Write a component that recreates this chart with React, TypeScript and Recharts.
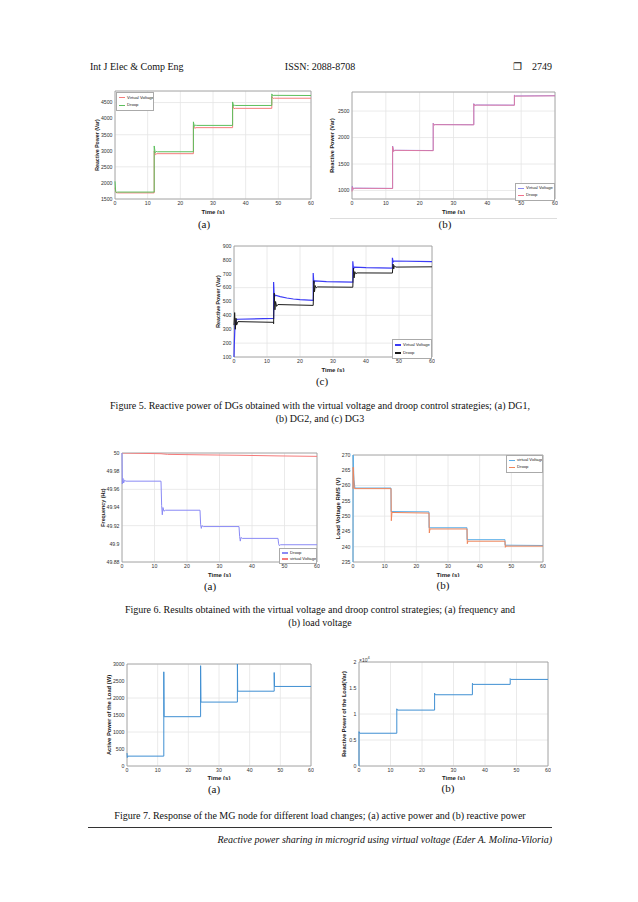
import React from 'react';
import { LineChart, Line, XAxis, YAxis, CartesianGrid, ReferenceArea } from 'recharts';

type Pt = { t: number; v: number };
const pts = (rows: number[][]): Pt[] => rows.map(([t, v]) => ({ t, v }));

const timeTicks = [0, 10, 20, 30, 40, 50, 60];

// Figure 5 (a) DG1
const dg1Ticks = [1500, 2000, 2500, 3000, 3500, 4000, 4500];
const dg1Virtual = pts([
  [0, 1850], [0.3, 1700], [0.8, 1690], [12, 1690], [12, 2990], [12.4, 2880], [12.8, 2910], [24, 2910],
  [24, 3780], [24.4, 3700], [24.8, 3720], [36, 3720], [36, 4420], [36.4, 4310], [36.8, 4320], [48, 4320],
  [48, 4690], [48.4, 4630], [48.8, 4635], [60, 4635],
]);
const dg1Droop = pts([
  [0, 2050], [0.2, 1740], [0.4, 1700], [0.8, 1715], [12, 1715], [12, 3150], [12.3, 2940], [12.6, 2980],
  [13, 2970], [24, 2970], [24, 3900], [24.3, 3760], [24.6, 3800], [25, 3790], [36, 3790], [36, 4520],
  [36.3, 4390], [36.6, 4415], [37, 4410], [48, 4410], [48, 4770], [48.3, 4710], [48.6, 4725], [60, 4720],
]);

// Figure 5 (b) DG2
const dg2Ticks = [1000, 1500, 2000, 2500];
const dg2Virtual = pts([
  [0, 1000], [0.1, 1080], [0.4, 1030], [0.8, 1045], [12, 1040], [12, 1840], [12.3, 1740], [12.6, 1760],
  [24, 1755], [24, 2270], [24.3, 2240], [24.6, 2245], [36, 2242], [36, 2640], [36.3, 2605], [36.6, 2615],
  [48, 2612], [48, 2800], [48.3, 2785], [60, 2790],
]);
const dg2Droop = pts([
  [0, 980], [0.1, 1070], [0.4, 1025], [0.8, 1042], [12, 1038], [12, 1830], [12.3, 1735], [12.6, 1758],
  [24, 1752], [24, 2265], [24.3, 2235], [24.6, 2243], [36, 2240], [36, 2635], [36.3, 2600], [36.6, 2612],
  [48, 2610], [48, 2795], [48.3, 2782], [60, 2788],
]);

// Figure 5 (c) DG3
const dg3Ticks = [100, 200, 300, 400, 500, 600, 700, 800, 900];
const dg3Virtual = pts([
  [0, 100], [0.1, 200], [0.3, 330], [0.6, 365], [1, 372], [12, 378], [12, 640], [12.2, 530], [12.5, 545],
  [14, 535], [16, 525], [18, 518], [20, 513], [24, 508], [24, 705], [24.2, 630], [24.5, 648], [28, 643],
  [36, 640], [36, 790], [36.2, 735], [36.5, 748], [40, 744], [48, 740], [48, 815], [48.2, 785], [48.5, 792],
  [60, 788],
]);
const dg3Droop = pts([
  [0, 330], [0.2, 420], [0.4, 300], [0.6, 380], [0.8, 330], [1.2, 355], [12, 350], [12, 340], [12.2, 560],
  [12.4, 440], [12.6, 500], [12.9, 465], [13.3, 478], [24, 472], [24.2, 650], [24.4, 570], [24.6, 615],
  [24.9, 598], [25.3, 605], [36, 603], [36.2, 740], [36.4, 670], [36.6, 715], [36.9, 700], [37.3, 706],
  [48, 705], [48.2, 770], [48.4, 735], [48.6, 758], [49, 748], [60, 750],
]);

// Figure 6 (a) frequency
const freqTicks = [49.88, 49.9, 49.92, 49.94, 49.96, 49.98, 50];
const freqVirtual = pts([
  [0, 50], [12, 49.9992], [14, 49.9985], [24, 49.998], [36, 49.9975], [48, 49.9968], [60, 49.9963],
]);
const freqDroop = pts([
  [0, 50], [0.1, 49.966], [0.3, 49.972], [0.5, 49.967], [0.8, 49.970], [1.2, 49.969], [12, 49.969],
  [12.2, 49.942], [12.4, 49.932], [12.6, 49.940], [12.9, 49.936], [13.4, 49.937], [24, 49.937],
  [24.2, 49.921], [24.4, 49.917], [24.6, 49.920], [25, 49.919], [36, 49.919], [36.2, 49.908],
  [36.4, 49.903], [36.6, 49.907], [37, 49.906], [48, 49.906], [48.2, 49.900], [48.4, 49.898],
  [48.8, 49.899], [60, 49.899],
]);

// Figure 6 (b) load voltage
const voltTicks = [235, 240, 245, 250, 255, 260, 265, 270];
const voltVirtual = pts([
  [0, 235], [0.05, 270], [0.3, 262], [0.6, 259.2], [12, 259.2], [12, 251.5], [24, 251.4], [24, 246.2],
  [36, 246.2], [36, 242.3], [48, 242.3], [48, 240.5], [60, 240.4],
]);
const voltDroop = pts([
  [0, 259], [0.05, 266], [0.4, 259], [12, 259], [12.1, 248.5], [12.3, 251.2], [24, 251], [24.1, 244.5],
  [24.3, 245.8], [36, 245.8], [36.1, 241], [36.3, 241.8], [48, 241.8], [48.1, 239.8], [48.3, 240.2],
  [60, 240.2],
]);

// Figure 7 (a) active power of the load
const loadPTicks = [0, 500, 1000, 1500, 2000, 2500, 3000];
const loadP = pts([
  [0, 380], [0.1, 250], [0.3, 290], [12, 290], [12, 2770], [12.1, 1450], [24, 1450], [24, 2950],
  [24.1, 1880], [36, 1880], [36, 3050], [36.1, 2200], [48, 2200], [48, 2750], [48.1, 2340], [60, 2340],
]);

// Figure 7 (b) reactive power of the load
const loadQTicks = [0, 5000, 10000, 15000, 20000];
const loadQ = pts([
  [0, 0], [0, 6600], [0.2, 6300], [12, 6300], [12, 11000], [12.2, 10750], [24, 10750], [24, 14000],
  [24.2, 13700], [36, 13700], [36, 15900], [36.2, 15700], [48, 15700], [48, 16800], [48.2, 16650],
  [60, 16650],
]);

const sans = '"Liberation Sans", Arial, sans-serif';
const serif = '"Liberation Serif", "Times New Roman", serif';

type S = { name: string; data: Pt[]; color: string; width?: number; opacity?: number };

const Panel = ({ x, y, w, h, domain, ticks, yLabel, labelDist, yLabelSize = 5.5, xH = 15, fmt, series }: {
  x: number; y: number; w: number; h: number; domain: [number, number]; ticks: number[];
  yLabel: string; labelDist: number; yLabelSize?: number; xH?: number; fmt?: (v: number) => string; series: S[];
}) => {
  const yW = 32, mt = 3, mr = 3;
  return (
    <div style={{ position: 'absolute', left: x - yW, top: y - mt }}>
      <LineChart width={yW + w + mr} height={mt + h + xH} margin={{ top: mt, right: mr, left: 0, bottom: 0 }}
        style={{ fontFamily: sans }}>
        <CartesianGrid stroke="#e4e4e4" strokeWidth={0.8} />
        <XAxis dataKey="t" type="number" domain={[0, 60]} ticks={timeTicks} height={xH}
          axisLine={false} tickLine={false} tickSize={2} tickMargin={0.5}
          tick={{ fontSize: 5.2, fill: '#333' }}
          label={{ value: 'Time (s)', position: 'insideBottom', offset: 0, fontSize: 6, fontWeight: 'bold', fill: '#222' }} />
        <YAxis type="number" domain={domain} ticks={ticks} width={yW} allowDataOverflow
          axisLine={false} tickLine={false} tickSize={1.5} tickMargin={1} tickFormatter={fmt}
          tick={{ fontSize: 5.2, fill: '#333' }}
          label={{ value: yLabel, angle: -90, position: 'insideLeft', offset: yW - labelDist, textAnchor: 'middle',
            fontSize: yLabelSize, fontWeight: 'bold', fill: '#222' }} />
        <ReferenceArea x1={0} x2={60} y1={domain[0]} y2={domain[1]} fill="none" stroke="#9a9a9a" strokeWidth={0.8} />
        {series.map((s) => (
          <Line key={s.name} data={s.data} dataKey="v" name={s.name} type="linear" stroke={s.color}
            strokeWidth={s.width ?? 1} strokeOpacity={s.opacity ?? 1} dot={false} activeDot={false}
            isAnimationActive={false} />
        ))}
      </LineChart>
    </div>
  );
};

const Legend = ({ x, y, w, rowH = 7, items }: {
  x: number; y: number; w: number; rowH?: number; items: { name: string; color: string }[];
}) => (
  <div style={{ position: 'absolute', left: x, top: y, width: w, background: '#fff', border: '0.8px solid #aaa',
    fontFamily: sans, fontSize: 4.2, color: '#222', padding: '1px 0', boxSizing: 'border-box', lineHeight: 1,
    overflow: 'hidden' }}>
    {items.map((it) => (
      <div key={it.name} style={{ display: 'flex', alignItems: 'center', height: rowH, whiteSpace: 'nowrap' }}>
        <div style={{ width: 6, height: 1.2, background: it.color, margin: '0 2px 0 2px', flexShrink: 0 }} />
        <span>{it.name}</span>
      </div>
    ))}
  </div>
);

const At = ({ x, y, size = 10, italic, children, anchor = 'center' }: {
  x: number; y: number; size?: number; italic?: boolean; children: React.ReactNode; anchor?: 'center' | 'left' | 'right';
}) => {
  const tx = anchor === 'center' ? '-50%' : anchor === 'right' ? '-100%' : '0';
  return (
    <div style={{ position: 'absolute', left: x, top: y, transform: `translate(${tx}, -50%)`, fontFamily: serif,
      fontSize: size, fontStyle: italic ? 'italic' : 'normal', whiteSpace: 'nowrap', color: '#111', lineHeight: 1 }}>
      {children}
    </div>
  );
};

export default function App() {
  return (
    <div style={{ position: 'absolute', left: 0, top: 0, width: 638, height: 902, background: '#fff', overflow: 'hidden' }}>
      <At x={90} y={67} anchor="left">Int J Elec &amp; Comp Eng</At>
      <At x={320} y={67}>ISSN: 2088-8708</At>
      <At x={552} y={67} anchor="right">❐&nbsp;&nbsp;&nbsp;&nbsp;2749</At>

      <Panel x={115} y={91} w={196} h={108} domain={[1500, 4860]} ticks={dg1Ticks} yLabel="Reactive Power (Var)"
        labelDist={18} yLabelSize={5.2}
        series={[{ name: 'Virtual Voltage', data: dg1Virtual, color: '#f47c7c' }, { name: 'Droop', data: dg1Droop, color: '#5cbf5c' }]} />
      <Legend x={116} y={92} w={38} rowH={7.5} items={[{ name: 'Virtual Voltage', color: '#f47c7c' }, { name: 'Droop', color: '#5cbf5c' }]} />
      <At x={204} y={224} size={11}>(a)</At>

      <Panel x={352} y={92} w={203} h={107} domain={[840, 2860]} ticks={dg2Ticks} yLabel="Reactive Power (Var)"
        labelDist={20} yLabelSize={5.5}
        series={[{ name: 'Virtual Voltage', data: dg2Virtual, color: '#8c8cf0' }, { name: 'Droop', data: dg2Droop, color: '#f2708c', opacity: 0.75 }]} />
      <Legend x={515} y={183} w={40} rowH={7} items={[{ name: 'Virtual Voltage', color: '#8c8cf0' }, { name: 'Droop', color: '#f2708c' }]} />
      <div style={{ position: 'absolute', left: 330, top: 218, width: 227, height: 1, background: '#ddd' }} />
      <At x={445} y={224} size={11}>(b)</At>

      <Panel x={234} y={246} w={198} h={111} domain={[100, 900]} ticks={dg3Ticks} yLabel="Reactive Power (Var)"
        labelDist={16} yLabelSize={5.3}
        series={[{ name: 'Virtual Voltage', data: dg3Virtual, color: '#3b3bf5', width: 1.2 }, { name: 'Droop', data: dg3Droop, color: '#1a1a1a' }]} />
      <Legend x={392} y={339} w={40} rowH={8} items={[{ name: 'Virtual Voltage', color: '#3b3bf5' }, { name: 'Droop', color: '#1a1a1a' }]} />
      <At x={322} y={381} size={11}>(c)</At>

      <At x={320} y={406}>Figure 5. Reactive power of DGs obtained with the virtual voltage and droop control strategies; (a) DG1,</At>
      <At x={320} y={419}>(b) DG2, and (c) DG3</At>

      <Panel x={122} y={453} w={195} h={109} domain={[49.88, 50]} ticks={freqTicks} yLabel="Frequency (Hz)"
        labelDist={19} yLabelSize={5.3}
        series={[{ name: 'virtual Voltage', data: freqVirtual, color: '#f57a7a' }, { name: 'Droop', data: freqDroop, color: '#8a8af5' }]} />
      <Legend x={279} y={548} w={38} rowH={6} items={[{ name: 'Droop', color: '#8a8af5' }, { name: 'virtual Voltage', color: '#f57a7a' }]} />
      <At x={210} y={586} size={11}>(a)</At>

      <Panel x={353} y={455} w={190} h={107} domain={[235, 270]} ticks={voltTicks} yLabel="Load Voltage RMS (V)"
        labelDist={15} yLabelSize={6}
        series={[{ name: 'virtual Voltage', data: voltVirtual, color: '#5aaee8' }, { name: 'Droop', data: voltDroop, color: '#f0855a' }]} />
      <Legend x={506} y={455} w={37} rowH={7} items={[{ name: 'virtual Voltage', color: '#5aaee8' }, { name: 'Droop', color: '#f0855a' }]} />
      <At x={443} y={585} size={11}>(b)</At>

      <At x={320} y={610}>Figure 6. Results obtained with the virtual voltage and droop control strategies; (a) frequency and</At>
      <At x={320} y={623}>(b) load voltage</At>

      <Panel x={127} y={664} w={184} h={102} domain={[0, 3000]} ticks={loadPTicks} yLabel="Active Power of the Load (W)"
        labelDist={18} yLabelSize={5.8} xH={14}
        series={[{ name: 'P', data: loadP, color: '#3f8fd2' }]} />
      <At x={214} y={789} size={11}>(a)</At>

      <Panel x={359} y={662} w={189} h={104} domain={[0, 20000]} ticks={loadQTicks} yLabel="Reactive Power of the Load(Var)"
        labelDist={15} yLabelSize={5.6} xH={14} fmt={(v) => String(v / 10000)}
        series={[{ name: 'Q', data: loadQ, color: '#3f8fd2' }]} />
      <div style={{ position: 'absolute', left: 359, top: 655, fontFamily: sans, fontSize: 5, color: '#333' }}>
        ×10<sup style={{ fontSize: 4 }}>4</sup>
      </div>
      <At x={448} y={788} size={11}>(b)</At>

      <At x={320} y={816}>Figure 7. Response of the MG node for different load changes; (a) active power and (b) reactive power</At>
      <div style={{ position: 'absolute', left: 88, top: 827, width: 464, height: 1, background: '#333' }} />
      <At x={552} y={840} anchor="right" italic>Reactive power sharing in microgrid using virtual voltage (Eder A. Molina-Viloria)</At>
    </div>
  );
}
